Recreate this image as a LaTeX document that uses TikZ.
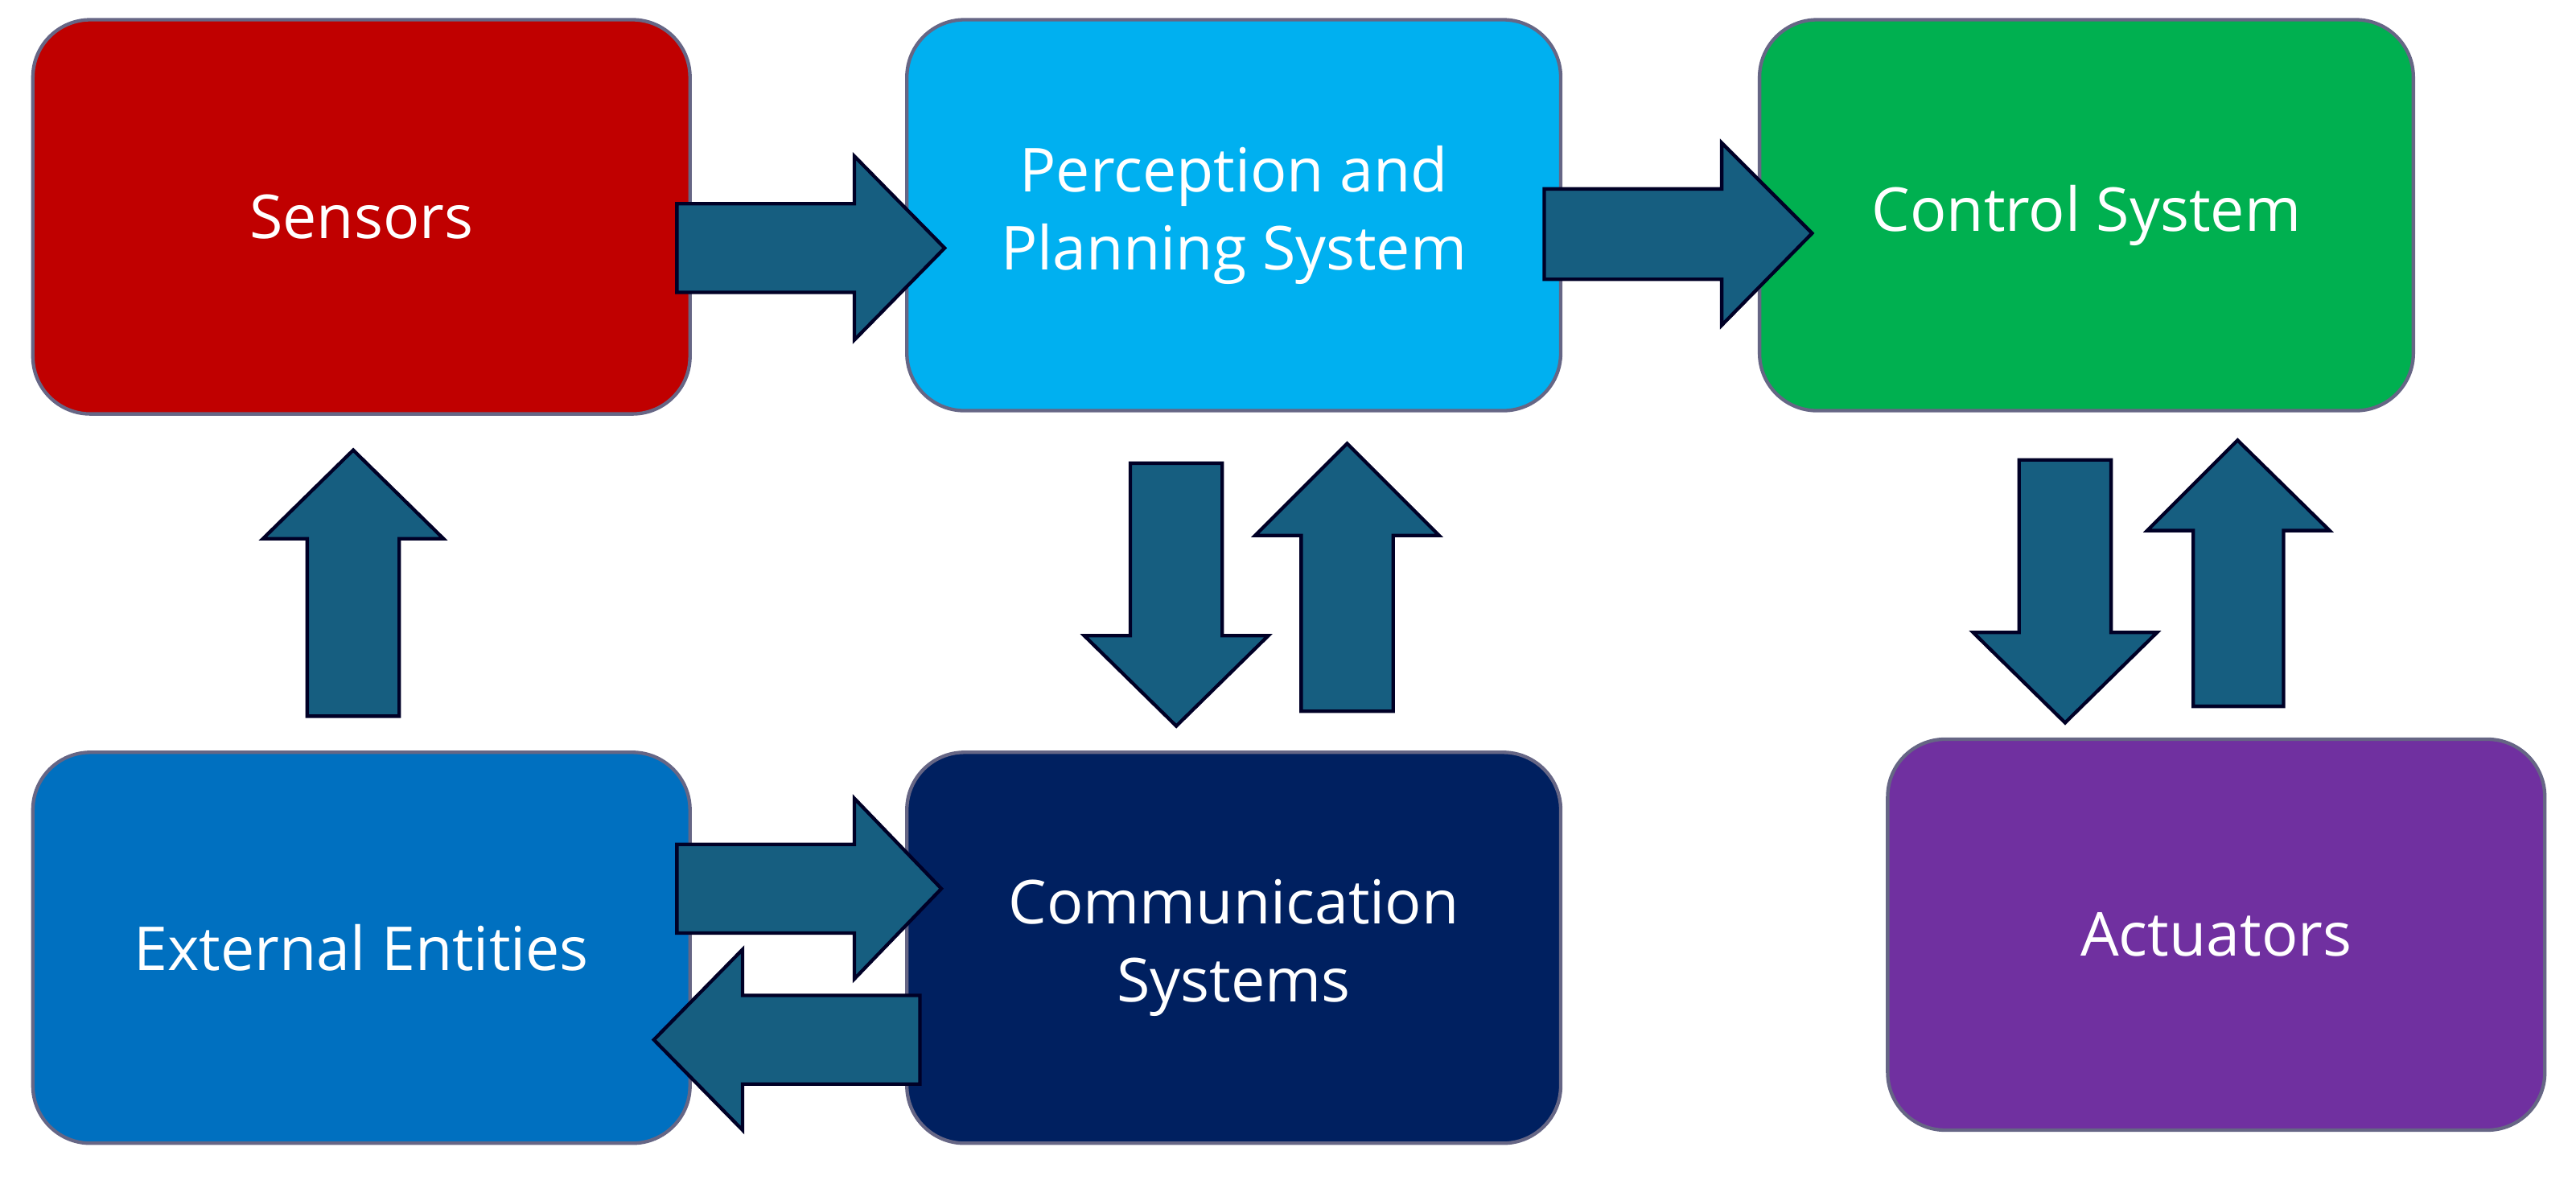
\documentclass[tikz,border=0pt]{standalone}
\usepackage{fontspec}
\setmainfont{Open Sans}
\definecolor{arr}{HTML}{165E80}
\definecolor{cS}{HTML}{C00000}
\definecolor{cP}{HTML}{00B0F0}
\definecolor{cC}{HTML}{00B050}
\definecolor{cE}{HTML}{0070C0}
\definecolor{cM}{HTML}{002060}
\definecolor{cA}{HTML}{7030A0}
\begin{document}
\begin{tikzpicture}[x=0.02cm,y=-0.02cm,
  box/.style={draw=black!80!blue!60, line width=1.2pt, rounded corners=0.7cm},
  barrow/.style={fill=arr, draw=black!85!blue, line width=1.2pt, line join=miter}]
\useasboundingbox (0,0) rectangle (1568,718);
\newcommand{\bx}[7]{\draw[box, fill=#6] (#1,#2) rectangle (#3,#4); \node[text=white, align=center, font=\fontsize{21}{27}\selectfont] (#7) at ({(#1+#3)/2},{(#2+#4)/2}) {#5};}
\bx{20}{12}{420}{252}{Sensors}{cS}{sen}
\bx{552}{12}{950}{250}{Perception and\\Planning System}{cP}{per}
\bx{1071}{12}{1469}{250}{Control System}{cC}{con}
\bx{20}{458}{420}{696}{External Entities}{cE}{ext}
\bx{552}{458}{950}{696}{Communication\\Systems}{cM}{com}
\bx{1149}{450}{1549}{688}{Actuators}{cA}{act}
% right arrows
\draw[barrow] (412,124)--(520,124)--(520,95)--(575,151)--(520,207)--(520,178)--(412,178)--cycle;
\draw[barrow] (940,115)--(1048,115)--(1048,87)--(1103,142)--(1048,198)--(1048,170)--(940,170)--cycle;
\draw[barrow] (412,514)--(520,514)--(520,486)--(573,541)--(520,596)--(520,568)--(412,568)--cycle;
% left arrow
\draw[barrow] (560,606)--(452,606)--(452,578)--(398,633)--(452,688)--(452,660)--(560,660)--cycle;
% up arrows
\draw[barrow] (187,436)--(187,328)--(160,328)--(215,274)--(270,328)--(243,328)--(243,436)--cycle;
\draw[barrow] (792,433)--(792,326)--(764,326)--(820,270)--(876,326)--(848,326)--(848,433)--cycle;
\draw[barrow] (1335,430)--(1335,323)--(1307,323)--(1362,268)--(1418,323)--(1390,323)--(1390,430)--cycle;
% down arrows
\draw[barrow] (688,282)--(688,387)--(660,387)--(716,442)--(772,387)--(744,387)--(744,282)--cycle;
\draw[barrow] (1229,280)--(1229,385)--(1201,385)--(1257,440)--(1313,385)--(1285,385)--(1285,280)--cycle;
\end{tikzpicture}
\end{document}
